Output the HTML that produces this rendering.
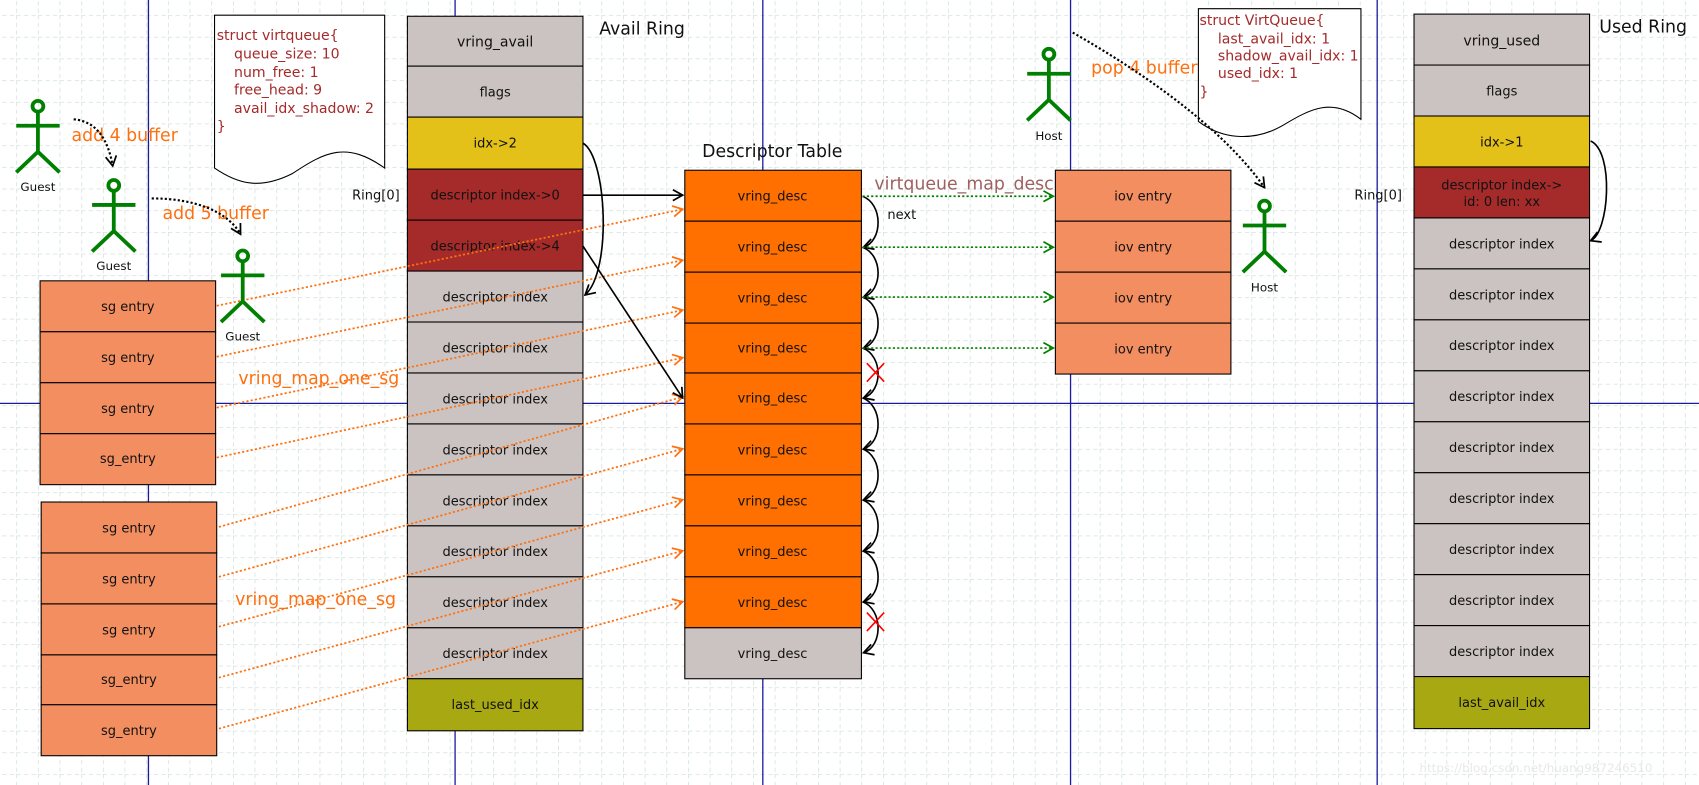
<!DOCTYPE html>
<html><head><meta charset="utf-8"><style>
html,body{margin:0;padding:0;background:#fff;}
svg{display:block;}
text{font-family:"DejaVu Sans","Liberation Sans",sans-serif;}
</style></head><body>
<svg width="1699" height="785" viewBox="0 0 1568 724" preserveAspectRatio="none" xmlns="http://www.w3.org/2000/svg">
<defs>
<pattern id="g" width="20" height="20" patternUnits="userSpaceOnUse" x="-5" y="-6">
<path d="M0 0H20M0 0V20" stroke="#c9dcd7" stroke-width="1.2" stroke-dasharray="4 3" fill="none"/>
</pattern>
<marker id="ab" markerWidth="12" markerHeight="12" refX="10" refY="6" orient="auto" markerUnits="userSpaceOnUse"><path d="M1 1L10 6L1 11" fill="none" stroke="#000" stroke-width="1.6"/></marker>
<marker id="ao" markerWidth="12" markerHeight="12" refX="10" refY="6" orient="auto" markerUnits="userSpaceOnUse"><path d="M1 1L10 6L1 11" fill="none" stroke="#ff7010" stroke-width="1.6"/></marker>
<marker id="ag" markerWidth="12" markerHeight="12" refX="10" refY="6" orient="auto" markerUnits="userSpaceOnUse"><path d="M1 1L10 6L1 11" fill="none" stroke="#008000" stroke-width="1.6"/></marker>
</defs>
<rect width="1568" height="724" fill="#fff"/>
<rect width="1568" height="724" fill="url(#g)"/>
<g stroke="#1a1aa0" stroke-width="1.2">
<line x1="137" y1="0" x2="137" y2="724"/><line x1="420" y1="0" x2="420" y2="724"/>
<line x1="704" y1="0" x2="704" y2="724"/><line x1="988" y1="0" x2="988" y2="724"/>
<line x1="1271" y1="0" x2="1271" y2="724"/><line x1="0" y1="372" x2="1568" y2="372"/>
</g>

<path d="M198 14H355V155C320 130 300 140 270 160C240 175 220 170 198 155Z" fill="#fff" stroke="#000"/>
<g fill="#a52a2a" font-size="13">
<text x="200" y="37">struct virtqueue{</text>
<text x="216" y="54">queue_size: 10</text>
<text x="216" y="71">num_free: 1</text>
<text x="216" y="87">free_head: 9</text>
<text x="216" y="104">avail_idx_shadow: 2</text>
<text x="200" y="121">}</text>
</g>
<path d="M1106 8H1256V110C1230 90 1210 100 1185 115C1160 130 1130 130 1106 112Z" fill="#fff" stroke="#000"/>
<g fill="#a52a2a" font-size="13">
<text x="1107" y="23">struct VirtQueue{</text>
<text x="1124" y="40">last_avail_idx: 1</text>
<text x="1124" y="56">shadow_avail_idx: 1</text>
<text x="1124" y="72">used_idx: 1</text>
<text x="1107" y="89">}</text>
</g>

<g stroke="#000" stroke-width="1">
<rect x="376" y="15" width="162" height="46" fill="#cbc3c1"/>
<rect x="376" y="61" width="162" height="47" fill="#cbc3c1"/>
<rect x="376" y="108" width="162" height="48" fill="#e4c119"/>
<rect x="376" y="156" width="162" height="47" fill="#a52a2a"/>
<rect x="376" y="203" width="162" height="47" fill="#a52a2a"/>
<rect x="376" y="250" width="162" height="47" fill="#cbc3c1"/>
<rect x="376" y="297" width="162" height="47" fill="#cbc3c1"/>
<rect x="376" y="344" width="162" height="47" fill="#cbc3c1"/>
<rect x="376" y="391" width="162" height="47" fill="#cbc3c1"/>
<rect x="376" y="438" width="162" height="47" fill="#cbc3c1"/>
<rect x="376" y="485" width="162" height="47" fill="#cbc3c1"/>
<rect x="376" y="532" width="162" height="47" fill="#cbc3c1"/>
<rect x="376" y="579" width="162" height="47" fill="#cbc3c1"/>
<rect x="376" y="626" width="162" height="48" fill="#a8a813"/>
</g>
<g font-size="12" text-anchor="middle" fill="#111">
<text x="457" y="43" font-size="13">vring_avail</text>
<text x="457" y="89">flags</text>
<text x="457" y="136">idx-&gt;2</text>
<text x="457" y="184">descriptor index-&gt;0</text>
<text x="457" y="231">descriptor index-&gt;4</text>
<text x="457" y="278">descriptor index</text>
<text x="457" y="325">descriptor index</text>
<text x="457" y="372">descriptor index</text>
<text x="457" y="419">descriptor index</text>
<text x="457" y="466">descriptor index</text>
<text x="457" y="513">descriptor index</text>
<text x="457" y="560">descriptor index</text>
<text x="457" y="607">descriptor index</text>
<text x="457" y="654">last_used_idx</text>
</g>
<text x="553" y="32" font-size="16" fill="#111">Avail Ring</text>
<text x="325" y="184" font-size="12" fill="#111">Ring[0]</text>

<text x="648" y="145" font-size="16" fill="#111">Descriptor Table</text>
<g stroke="#000" stroke-width="1" fill="#ff7000">
<rect x="632" y="157" width="163" height="47"/><rect x="632" y="204" width="163" height="47"/>
<rect x="632" y="251" width="163" height="47"/><rect x="632" y="298" width="163" height="46"/>
<rect x="632" y="344" width="163" height="47"/><rect x="632" y="391" width="163" height="47"/>
<rect x="632" y="438" width="163" height="47"/><rect x="632" y="485" width="163" height="47"/>
<rect x="632" y="532" width="163" height="47"/><rect x="632" y="579" width="163" height="47" fill="#cbc3c1"/>
</g>
<g font-size="12" text-anchor="middle" fill="#111">
<text x="713" y="185">vring_desc</text><text x="713" y="232">vring_desc</text>
<text x="713" y="279">vring_desc</text><text x="713" y="325">vring_desc</text>
<text x="713" y="371">vring_desc</text><text x="713" y="419">vring_desc</text>
<text x="713" y="466">vring_desc</text><text x="713" y="513">vring_desc</text>
<text x="713" y="560">vring_desc</text><text x="713" y="607">vring_desc</text>
</g>
<text x="819" y="202" font-size="12" fill="#111">next</text>
<g fill="none" stroke="#000" stroke-width="1.5" marker-end="url(#ab)">
<path d="M796 181C815 188 815 222 797 228"/>
<path d="M796 228C815 235 815 268 797 274"/>
<path d="M796 274C815 281 815 315 797 321"/>
<path d="M796 321C815 328 815 361 797 367"/>
<path d="M796 367C815 374 815 408 797 414"/>
<path d="M796 414C815 421 815 455 797 461"/>
<path d="M796 461C815 468 815 502 797 508"/>
<path d="M796 508C815 515 815 549 797 555"/>
<path d="M796 555C815 562 815 596 797 602"/>
</g>
<g stroke="#ff0000" stroke-width="1.5">
<path d="M800 335L816 352M816 335L800 352"/><path d="M800 565L816 582M816 565L800 582"/>
</g>

<g stroke="#000" stroke-width="1" fill="#f38e60">
<rect x="974" y="157" width="162" height="47"/><rect x="974" y="204" width="162" height="47"/>
<rect x="974" y="251" width="162" height="47"/><rect x="974" y="298" width="162" height="47"/>
</g>
<g font-size="12" text-anchor="middle" fill="#111">
<text x="1055" y="185">iov entry</text><text x="1055" y="232">iov entry</text>
<text x="1055" y="279">iov entry</text><text x="1055" y="326">iov entry</text>
</g>
<text x="807" y="175" font-size="16" fill="#a06060">virtqueue_map_desc</text>
<g stroke="#008000" stroke-width="1.5" stroke-dasharray="2 2" marker-end="url(#ag)" fill="none">
<line x1="796" y1="181" x2="972" y2="181"/><line x1="796" y1="228" x2="972" y2="228"/>
<line x1="796" y1="274" x2="972" y2="274"/><line x1="796" y1="321" x2="972" y2="321"/>
</g>

<g stroke="#000" stroke-width="1">
<rect x="1305" y="13" width="162" height="47" fill="#cbc3c1"/>
<rect x="1305" y="60" width="162" height="47" fill="#cbc3c1"/>
<rect x="1305" y="107" width="162" height="47" fill="#e4c119"/>
<rect x="1305" y="154" width="162" height="47" fill="#a52a2a"/>
<rect x="1305" y="201" width="162" height="47" fill="#cbc3c1"/>
<rect x="1305" y="248" width="162" height="47" fill="#cbc3c1"/>
<rect x="1305" y="295" width="162" height="47" fill="#cbc3c1"/>
<rect x="1305" y="342" width="162" height="47" fill="#cbc3c1"/>
<rect x="1305" y="389" width="162" height="47" fill="#cbc3c1"/>
<rect x="1305" y="436" width="162" height="47" fill="#cbc3c1"/>
<rect x="1305" y="483" width="162" height="47" fill="#cbc3c1"/>
<rect x="1305" y="530" width="162" height="47" fill="#cbc3c1"/>
<rect x="1305" y="577" width="162" height="47" fill="#cbc3c1"/>
<rect x="1305" y="624" width="162" height="48" fill="#a8a813"/>
</g>
<g font-size="12" text-anchor="middle" fill="#111">
<text x="1386" y="42" font-size="13">vring_used</text>
<text x="1386" y="88">flags</text>
<text x="1386" y="135">idx-&gt;1</text>
<text x="1386" y="175">descriptor index-&gt;</text>
<text x="1386" y="190">id: 0 len: xx</text>
<text x="1386" y="229">descriptor index</text>
<text x="1386" y="276">descriptor index</text>
<text x="1386" y="323">descriptor index</text>
<text x="1386" y="370">descriptor index</text>
<text x="1386" y="417">descriptor index</text>
<text x="1386" y="464">descriptor index</text>
<text x="1386" y="511">descriptor index</text>
<text x="1386" y="558">descriptor index</text>
<text x="1386" y="605">descriptor index</text>
<text x="1386" y="652">last_avail_idx</text>
</g>
<text x="1476" y="30" font-size="16" fill="#111">Used Ring</text>
<text x="1250" y="184" font-size="12" fill="#111">Ring[0]</text>
<path d="M1468 130C1490 140 1485 215 1468 222" fill="none" stroke="#000" stroke-width="1.5" marker-end="url(#ab)"/>

<g stroke="#000" stroke-width="1" fill="#f38e60">
<rect x="37" y="259" width="162" height="47"/><rect x="37" y="306" width="162" height="47"/>
<rect x="37" y="353" width="162" height="47"/><rect x="37" y="400" width="162" height="47"/>
<rect x="38" y="463" width="162" height="47"/><rect x="38" y="510" width="162" height="47"/>
<rect x="38" y="557" width="162" height="47"/><rect x="38" y="604" width="162" height="46"/>
<rect x="38" y="650" width="162" height="47"/>
</g>
<g font-size="12" text-anchor="middle" fill="#111">
<text x="118" y="287">sg entry</text><text x="118" y="334">sg entry</text>
<text x="118" y="381">sg entry</text><text x="118" y="427">sg_entry</text>
<text x="119" y="491">sg entry</text><text x="119" y="538">sg entry</text>
<text x="119" y="585">sg entry</text><text x="119" y="631">sg_entry</text>
<text x="119" y="678">sg_entry</text>
</g>
<g fill="#ff7010" font-size="16">
<text x="220" y="354">vring_map_one_sg</text>
<text x="217" y="558">vring_map_one_sg</text>
<text x="66" y="130">add 4 buffer</text>
<text x="150" y="202">add 5 buffer</text>
<text x="1007" y="68">pop 4 buffer</text>
</g>
<g stroke="#ff7010" stroke-width="1.6" stroke-dasharray="2 2" fill="none" marker-end="url(#ao)">
<line x1="200" y1="282" x2="630" y2="193"/>
<line x1="200" y1="329" x2="630" y2="240"/>
<line x1="200" y1="376" x2="630" y2="286"/>
<line x1="200" y1="422" x2="630" y2="330"/>
<line x1="202" y1="486" x2="630" y2="366"/>
<line x1="202" y1="532" x2="630" y2="414"/>
<line x1="202" y1="578" x2="630" y2="461"/>
<line x1="202" y1="625" x2="630" y2="508"/>
<line x1="202" y1="672" x2="630" y2="555"/>
</g>

<g fill="none" stroke="#000" stroke-width="1.5" marker-end="url(#ab)">
<line x1="538" y1="180" x2="630" y2="180"/>
<line x1="538" y1="227" x2="630" y2="367"/>
<path d="M538 132C560 145 565 250 540 272"/>
</g>

<g stroke="#008000" stroke-width="3.5" fill="none">
<g transform="translate(35,90)"><circle cx="0" cy="8" r="5"/><path d="M0 13V50M-20 26H20M0 50L-20 69M0 50L20 69"/></g>
<g transform="translate(105,163)"><circle cx="0" cy="8" r="5"/><path d="M0 13V50M-20 26H20M0 50L-20 69M0 50L20 69"/></g>
<g transform="translate(224,228)"><circle cx="0" cy="8" r="5"/><path d="M0 13V50M-20 26H20M0 50L-20 69M0 50L20 69"/></g>
<g transform="translate(968,42)"><circle cx="0" cy="8" r="5"/><path d="M0 13V50M-20 26H20M0 50L-20 69M0 50L20 69"/></g>
<g transform="translate(1167,182)"><circle cx="0" cy="8" r="5"/><path d="M0 13V50M-20 26H20M0 50L-20 69M0 50L20 69"/></g>
</g>
<g font-size="11" fill="#111" text-anchor="middle">
<text x="35" y="176">Guest</text><text x="105" y="249">Guest</text><text x="224" y="314">Guest</text>
<text x="968" y="129">Host</text><text x="1167" y="269">Host</text>
</g>
<g fill="none" stroke="#000" stroke-width="2" stroke-dasharray="2 2" marker-end="url(#ab)">
<path d="M68 110C90 112 100 130 104 153"/>
<path d="M140 183C180 183 210 195 222 216"/>
<path d="M990 30C1060 70 1130 120 1167 173"/>
</g>
<text x="1310" y="712" font-size="11" fill="#e8e8e8">https://blog.csdn.net/huang987246510</text>
</svg>
</body></html>
